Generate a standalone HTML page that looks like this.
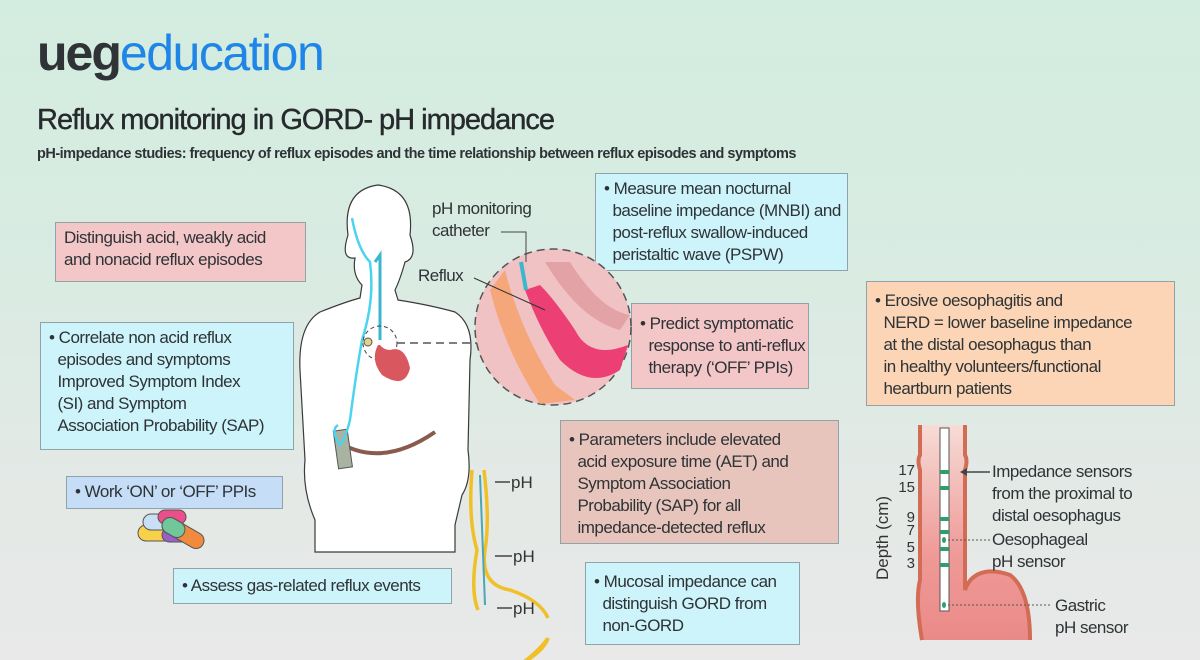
<!DOCTYPE html>
<html><head><meta charset="utf-8">
<style>
*{margin:0;padding:0;box-sizing:border-box}
body{width:1200px;height:660px;overflow:hidden;position:relative;font-family:"Liberation Sans",sans-serif;color:#2e3336;
background:linear-gradient(180deg,#d3ede0 0%,#d9ebe2 40%,#e4e9e6 75%,#e8e9e8 100%)}
.b{position:absolute;border:1px solid #8fa3a8;font-size:17px;line-height:22px;letter-spacing:-0.5px;white-space:nowrap;padding:4px 8px}
.cy{background:#cdf3fb}.pk{background:#f3c6c8}.or{background:#fbd5b5}.br{background:#e8c5bc}.bl{background:#c5ddf6}
.t{position:absolute;white-space:nowrap}
</style></head><body>
<div class="t" style="left:37px;top:24px;font-size:50px;font-weight:bold;letter-spacing:-2px;color:#2f3336">ueg<span style="color:#1f85e6;font-weight:normal;letter-spacing:-1.5px">education</span></div>
<div class="t" style="left:37px;top:104px;font-size:29px;letter-spacing:-1px;color:#262a2c;-webkit-text-stroke:0.4px #262a2c">Reflux monitoring in GORD- pH impedance</div>
<div class="t" style="left:37px;top:146px;font-size:14.5px;font-weight:bold;letter-spacing:-0.5px;color:#2f3336">pH-impedance studies: frequency of reflux episodes and the time relationship between reflux episodes and symptoms</div>

<div class="b pk" style="left:55px;top:222px;width:251px;height:60px">Distinguish acid, weakly acid<br>and nonacid reflux episodes</div>
<div class="b cy" style="left:40px;top:322px;width:254px;height:128px">• Correlate non acid reflux<br>&nbsp;&nbsp;episodes and symptoms<br>&nbsp;&nbsp;Improved Symptom Index<br>&nbsp;&nbsp;(SI) and Symptom<br>&nbsp;&nbsp;Association Probability (SAP)</div>
<div class="b bl" style="left:66px;top:476px;width:217px;height:33px">• Work ‘ON’ or ‘OFF’ PPIs</div>
<div class="b cy" style="left:173px;top:568px;width:279px;height:36px;padding-top:6px">• Assess gas-related reflux events</div>
<div class="b cy" style="left:595px;top:173px;width:253px;height:98px">• Measure mean nocturnal<br>&nbsp;&nbsp;baseline impedance (MNBI) and<br>&nbsp;&nbsp;post-reflux swallow-induced<br>&nbsp;&nbsp;peristaltic wave (PSPW)</div>
<div class="b pk" style="left:631px;top:303px;width:178px;height:86px;padding-top:9px">• Predict symptomatic<br>&nbsp;&nbsp;response to anti-reflux<br>&nbsp;&nbsp;therapy (‘OFF’ PPIs)</div>
<div class="b or" style="left:866px;top:281px;width:309px;height:125px;padding-top:8px">• Erosive oesophagitis and<br>&nbsp;&nbsp;NERD = lower baseline impedance<br>&nbsp;&nbsp;at the distal oesophagus than<br>&nbsp;&nbsp;in healthy volunteers/functional<br>&nbsp;&nbsp;heartburn patients</div>
<div class="b br" style="left:560px;top:420px;width:279px;height:124px;padding-top:8px">• Parameters include elevated<br>&nbsp;&nbsp;acid exposure time (AET) and<br>&nbsp;&nbsp;Symptom Association<br>&nbsp;&nbsp;Probability (SAP) for all<br>&nbsp;&nbsp;impedance-detected reflux</div>
<div class="b cy" style="left:585px;top:562px;width:215px;height:83px;padding-top:8px">• Mucosal impedance can<br>&nbsp;&nbsp;distinguish GORD from<br>&nbsp;&nbsp;non-GORD</div>

<svg style="position:absolute;left:0;top:0" width="1200" height="660">
<!-- body -->
<path d="M355 258 Q340 260 348 235 Q342 190 378 185 Q415 190 410 235 Q418 258 405 262 Q400 280 395 290 L398 300 Q430 305 455 312 Q475 325 470 360 L468 450 Q472 480 462 495 L455 525 L455 552 L315 552 L315 520 Q302 490 305 460 L300 370 Q298 325 320 312 Q345 302 360 298 L362 285 Q352 275 355 258Z" fill="#fff" stroke="#3a3a3a" stroke-width="1.2"/>
<path d="M335 440 Q380 470 435 432" fill="none" stroke="#8a5a4c" stroke-width="4"/>
<rect x="336" y="430" width="14" height="38" fill="#a9b3a2" stroke="#555" transform="rotate(-8 343 450)"/>
<path d="M352 218 Q358 250 370 262 Q375 300 362 340 Q355 380 350 420 Q345 440 340 445 Q330 430 338 425" fill="none" stroke="#4cd4ef" stroke-width="2.5"/>
<path d="M375 262 L380 255 L380 340" fill="none" stroke="#3cb6cc" stroke-width="3"/>
<circle cx="380" cy="343" r="17" fill="none" stroke="#444" stroke-dasharray="4 3"/>
<path d="M378 345 Q370 360 382 375 Q405 390 410 368 Q405 345 390 350 Q384 350 380 345Z" fill="#d9585f"/>
<path d="M397 343 L478 343" stroke="#555" stroke-dasharray="8 5" stroke-width="1.5"/>
<circle cx="368" cy="342" r="4" fill="#e7d08a" stroke="#555"/>
<!-- zoom circle -->
<circle cx="553" cy="327" r="78" fill="#f1c2c4" stroke="#555" stroke-dasharray="8 5" stroke-width="1.5"/>
<path d="M505 270 Q520 330 555 385 L575 400 L540 404 Q505 350 490 290Z" fill="#f5a77a"/>
<path d="M525 290 Q540 330 560 360 Q590 390 620 370 L628 345 Q590 360 575 330 Q555 300 540 285Z" fill="#ec3f73"/>
<path d="M545 262 Q580 320 620 330 L630 315 Q600 310 570 262Z" fill="#e3a3a6"/>
<path d="M521 262 L526 290" stroke="#3bb8cc" stroke-width="4"/>
<path d="M501 232 L526 232 L526 262" fill="none" stroke="#444"/>
<path d="M474 278 L545 310" stroke="#333"/>
<!-- probe -->
<path d="M472 470 Q468 520 477 550 Q470 590 478 610 M484 470 Q490 520 485 550 Q480 585 510 590 Q540 600 548 618 M548 638 Q545 650 520 665 Q540 650 548 638" fill="none" stroke="#f0c029" stroke-width="3.5"/>
<path d="M480 475 L485 605" stroke="#4aa7b5" stroke-width="2"/>
<path d="M495 482 L510 482 M495 556 L512 556 M497 608 L512 608" stroke="#444" stroke-width="1.5"/>
<text x="511" y="488" font-size="17" fill="#333" font-family="Liberation Sans">pH</text>
<text x="513" y="562" font-size="17" fill="#333" font-family="Liberation Sans">pH</text>
<text x="513" y="614" font-size="17" fill="#333" font-family="Liberation Sans">pH</text>
<!-- pills -->
<rect x="138" y="525" width="40" height="16" rx="8" fill="#f8d14b" stroke="#555"/>
<rect x="143" y="514" width="40" height="16" rx="8" fill="#c8dff5" stroke="#555"/>
<rect x="158" y="510" width="28" height="14" rx="7" fill="#ea4f8a" stroke="#555"/>
<rect x="162" y="528" width="28" height="14" rx="7" fill="#9b5fc7" stroke="#555"/>
<rect x="160" y="525" width="46" height="16" rx="8" fill="#f08a3c" stroke="#555" transform="rotate(30 183 533)"/>
<rect x="160" y="525" width="24" height="16" rx="8" fill="#6fc79a" stroke="#555" transform="rotate(30 183 533)"/>
<!-- oesophagus diagram -->
<defs><linearGradient id="g" x1="0" y1="0" x2="0" y2="1"><stop offset="0" stop-color="#f6dcd6"/><stop offset="0.6" stop-color="#ef9a98"/><stop offset="1" stop-color="#ea8a88"/></linearGradient></defs>
<path d="M920 425 L920 455 Q917 460 920 470 L920 580 Q915 600 922 640 L1030 640 Q1030 590 1010 575 Q995 570 985 572 Q970 575 965 590 L965 470 Q968 460 965 455 L965 425Z" fill="url(#g)"/>
<path d="M920 425 L920 455 Q917 460 920 470 L920 580 Q915 600 922 640 M965 425 L965 455 Q968 460 965 470 L965 590 Q970 575 985 572 Q995 570 1010 575 Q1030 590 1030 640" fill="none" stroke="#d36c55" stroke-width="4"/>
<rect x="940" y="428" width="9" height="183" fill="#fff" stroke="#555"/>
<g fill="#2e9e6a"><rect x="940" y="470" width="9" height="4"/><rect x="940" y="486" width="9" height="4"/><rect x="940" y="517" width="9" height="4"/><rect x="940" y="530" width="9" height="4"/><rect x="940" y="547" width="9" height="4"/><rect x="940" y="563" width="9" height="4"/><ellipse cx="944" cy="540" rx="2" ry="3"/><ellipse cx="944" cy="605" rx="2" ry="3"/></g>
<g font-family="Liberation Sans" font-size="15" fill="#333" text-anchor="end"><text x="915" y="475">17</text><text x="915" y="492">15</text><text x="915" y="522">9</text><text x="915" y="535">7</text><text x="915" y="552">5</text><text x="915" y="568">3</text></g>
<text transform="translate(888 580) rotate(-90)" font-family="Liberation Sans" font-size="17" fill="#333">Depth (cm)</text>
<path d="M962 472 L990 472" stroke="#444" stroke-width="1.5"/><path d="M960 472 L967 468 L967 476Z" fill="#444"/>
<path d="M948 540 L990 540 M948 605 L1050 605" stroke="#555" stroke-dasharray="2 2"/>
</svg>
<div class="t" style="left:432px;top:198px;font-size:17px;line-height:22px;letter-spacing:-0.5px">pH monitoring<br>catheter</div>
<div class="t" style="left:418px;top:266px;font-size:17px;letter-spacing:-0.5px">Reflux</div>
<div class="t" style="left:992px;top:461px;font-size:17px;line-height:22px;letter-spacing:-0.5px">Impedance sensors<br>from the proximal to<br>distal oesophagus</div>
<div class="t" style="left:992px;top:529px;font-size:17px;line-height:22px;letter-spacing:-0.5px">Oesophageal<br>pH sensor</div>
<div class="t" style="left:1055px;top:595px;font-size:17px;line-height:22px;letter-spacing:-0.5px">Gastric<br>pH sensor</div>
</body></html>
